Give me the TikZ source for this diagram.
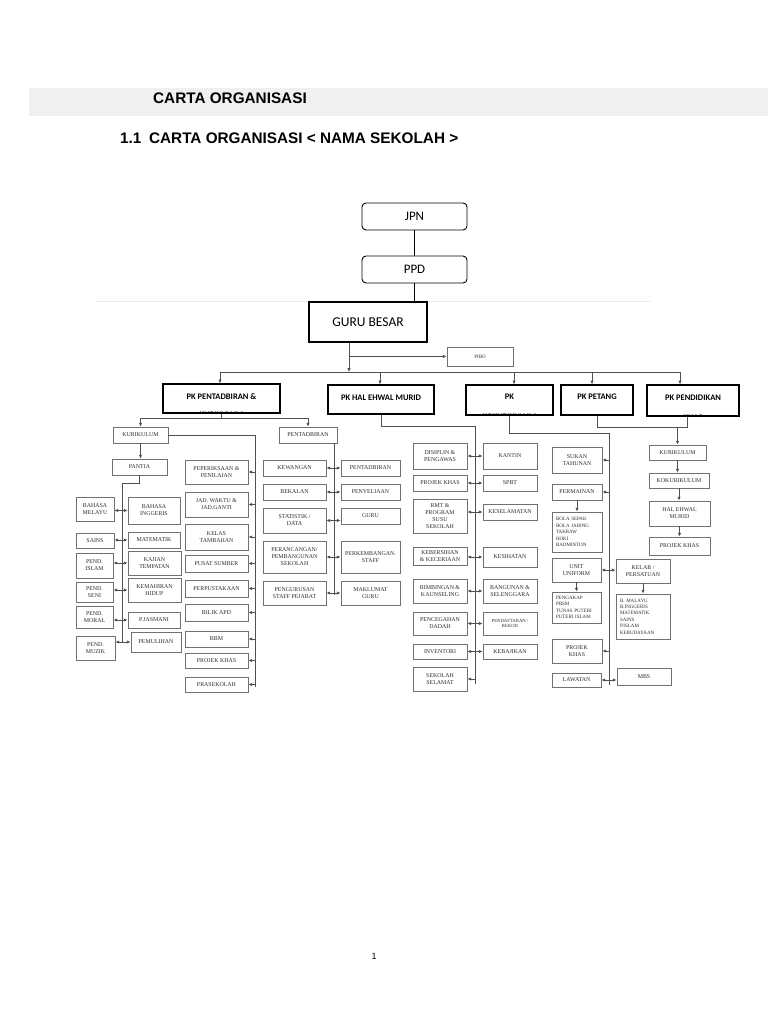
\documentclass[tikz,border=0pt]{standalone}
\usepackage{fontspec}
\setmainfont{Liberation Sans}
\newfontfamily\carl{Carlito}
\newfontfamily\scanf{Liberation Serif}
\usetikzlibrary{arrows.meta}
\definecolor{bord}{HTML}{707070}
\definecolor{txt}{HTML}{2E2E2E}
\definecolor{lnk}{HTML}{505050}
\definecolor{band}{HTML}{F0F0F0}
\newcommand\bxx[7][]{\node[sb,#1,minimum width={#5-#3},minimum height={#6-#4}] (#2) at ({(#3+#5)/2},{(#4+#6)/2}) {#7};}
\begin{document}
\begin{tikzpicture}[x=1pt,y=-1pt,
  sb/.style={draw=bord,line width=0.75pt,inner sep=0pt,align=center,text=txt,
    font={\scanf\fontsize{5.9}{7}\selectfont}},
  lst/.style={align=left,inner xsep=4pt,font={\scanf\fontsize{5}{6.4}\selectfont}},
  rbox/.style={draw=black,line width=0.9pt,rounded corners=4pt,minimum width=105pt,minimum height=27pt,
    inner sep=0pt,font={\carl\fontsize{13}{15}\selectfont}},
  gbox/.style={draw=black,line width=1.4pt,minimum width=118pt,minimum height=40pt,
    inner sep=0pt,font={\carl\fontsize{13.5}{16}\selectfont}},
  pkb/.style={draw=black,line width=1.3pt,inner sep=0pt},
  pkt/.style={inner sep=0pt,font={\carl\bfseries\fontsize{8.5}{10}\selectfont}},
  ln/.style={draw=lnk,line width=0.65pt},
  arr/.style={ln,-{Latex[length=3.8pt,width=3.3pt]}},
  darr/.style={ln,{Latex[length=3.8pt,width=3.3pt]}-{Latex[length=3.8pt,width=3.3pt]}},
  ttl/.style={inner sep=0pt,anchor=west,font={\bfseries\fontsize{15.3}{18}\selectfont}}
]
\fill[white] (0,0) rectangle (768,1024);
\useasboundingbox (0,0) rectangle (768,1024);
% header
\fill[band] (29,88) rectangle (768,116);
\node[ttl] (title) at (153,98) {CARTA ORGANISASI};
\node[ttl] (subtitle) at (120,138.5) {1.1\enspace CARTA ORGANISASI < NAMA SEKOLAH >};
\draw[gray!15,line width=0.6pt] (95,301) -- (650,301);

% top chain
\node[rbox] (jpn) at (414.5,216.5) {JPN};
\node[rbox] (ppd) at (414.5,269.5) {PPD};
\node[gbox] (gb) at (368,322) {GURU BESAR};
\draw[black,line width=0.8pt] (jpn) -- (ppd);
\draw[black,line width=0.8pt] (ppd.south) -- (ppd.south |- gb.north);
\bxx[font={\scanf\fontsize{5}{6}\selectfont}]{pibo}{447}{347}{513}{366}{PIBO}

% PK boxes
\node[pkb,minimum width=117pt,minimum height=29pt] (pkp) at (221.5,398.5) {};
\node[pkb,minimum width=106pt,minimum height=29pt] (pkh) at (381,399.5) {};
\node[pkb,minimum width=87pt,minimum height=30pt] (pkk) at (509.5,400) {};
\node[pkb,minimum width=72pt,minimum height=30pt] (pkpt) at (597,400) {};
\node[pkb,minimum width=92pt,minimum height=31pt] (pkpk) at (693,400.5) {};
\node[pkt] (pkh1) at (381,398) {PK HAL EHWAL MURID};
\node[pkt] (pkpt1) at (597,397) {PK PETANG};
\begin{scope}
  \clip (pkp.south west) rectangle (pkp.north east);
  \node[pkt] (pkp1) at (221.5,397) {PK PENTADBIRAN \&};
  \node[pkt] (pkp2) at (221.5,415) {KURIKULUM};
\end{scope}
\begin{scope}
  \clip (pkk.south west) rectangle (pkk.north east);
  \node[pkt] (pkk1) at (509.5,397) {PK};
  \node[pkt] (pkk2) at (509.5,417) {KOKURIKULUM};
\end{scope}
\begin{scope}
  \clip (pkpk.south west) rectangle (pkpk.north east);
  \node[pkt] (pkpk1) at (693,398) {PK PENDIDIKAN};
  \node[pkt] (pkpk2) at (693,418) {KHAS};
\end{scope}

\coordinate (t0) at (349,372);
\coordinate (tA) at (220,372);
\coordinate (tB) at (380,372);
\coordinate (tC) at (514,372);
\coordinate (tD) at (592,372);
\coordinate (tE) at (680,372);
\draw[arr] (gb.south -| t0) -- (t0);
\draw[arr] (gb.south -| t0) |- (pibo.west);
\draw[ln] (tA) -- (tE);
\draw[arr] (tA) -- (tA |- pkp.north);
\draw[arr] (tB) -- (tB |- pkh.north);
\draw[arr] (tC) -- (tC |- pkk.north);
\draw[arr] (tD) -- (tD |- pkpt.north);
\draw[arr] (tE) -- (tE |- pkpk.north);

% ---------- PK PENTADBIRAN & KURIKULUM ----------
\bxx{kur}{113}{427}{168}{443}{KURIKULUM}
\bxx{pan}{112}{459}{167}{475}{PANTIA}
\bxx{bm}{76}{497}{114}{521}{BAHASA\\MELAYU}
\bxx{bi}{128}{497}{180}{524}{BAHASA\\INGGERIS}
\bxx{sains}{76}{533}{114}{548}{SAINS}
\bxx{mt}{128}{532}{180}{548}{MATEMATIK}
\bxx{pi}{76}{553}{113}{578}{PEND.\\ISLAM}
\bxx{kt}{128}{551}{181}{575}{KAJIAN\\TEMPATAN}
\bxx{ps}{76}{582}{113}{602}{PEND.\\SENI}
\bxx{kh}{128}{578}{181}{602}{KEMAHIRAN\\HIDUP}
\bxx{pm}{76}{606}{113}{628}{PEND.\\MORAL}
\bxx{pj}{128}{612}{180}{628}{P.JASMANI}
\bxx{pmz}{76}{636}{115}{660}{PEND.\\MUZIK}
\bxx{pml}{131}{632}{181}{652}{PEMULIHAN}

\bxx{pep}{185}{460}{248}{484}{PEPERIKSAAN \&\\PENILAIAN}
\bxx{jw}{185}{492}{248}{517}{JAD. WAKTU \&\\JAD.GANTI}
\bxx{kel}{185}{524}{248}{550}{KELAS\\TAMBAHAN}
\bxx{pus}{185}{555}{248}{572}{PUSAT SUMBER}
\bxx{perp}{185}{580}{248}{597}{PERPUSTAKAAN}
\bxx{apd}{185}{604}{248}{621}{BILIK APD}
\bxx{bbm}{185}{631}{248}{647}{BBM}
\bxx{pkhA}{185}{653}{248}{668}{PROJEK KHAS}
\bxx{pra}{185}{677}{248}{692}{PRASEKOLAH}

\coordinate (j1) at (221.5,418);
\draw[ln] (pkp.south) -- (j1);
\bxx{pent}{279}{427}{337}{443}{PENTADBIRAN}
\draw[arr] (j1) -| (kur.north);
\draw[arr] (j1) -| (pent.north);
\coordinate (sL) at (255,687);
\draw[ln] (kur.east) -| (sL);
\foreach \n in {pep,jw,kel,pus,perp,apd,bbm,pkhA,pra}
  \draw[arr] (\n.east -| sL) -- (\n.east);
\draw[arr] (kur.south) -- (kur.south |- pan.north);
\coordinate (sP) at (122,483);
\coordinate (sPb) at (122,643);
\draw[ln] (pan.south) |- (sP) -- (sPb);
\foreach \a/\b in {bm/bi,sains/mt,pi/kt,ps/kh,pm/pj,pmz/pml}
  \draw[darr] (\b.west -| \a.east) -- (\b.west);

% ---------- PENTADBIRAN ----------
\bxx{kew}{263}{460}{326}{476}{KEWANGAN}
\bxx{pen2}{341}{460}{400}{476}{PENTADBIRAN}
\bxx{bek}{263}{484}{326}{500}{BEKALAN}
\bxx{peny}{341}{484}{400}{500}{PENYELIAAN}
\bxx{stat}{263}{508}{326}{533}{STATISTIK /\\DATA}
\bxx{guru}{341}{508}{400}{524}{GURU}
\bxx{peranc}{263}{541}{326}{573}{PERANCANGAN/\\PEMBANGUNAN\\SEKOLAH}
\bxx{perk}{341}{541}{400}{573}{PERKEMBANGAN.\\STAFF}
\bxx{peng}{263}{581}{326}{605}{PENGURUSAN\\STAFF PEJABAT}
\bxx{mak}{341}{581}{400}{605}{MAKLUMAT\\GURU}
\coordinate (sM) at (334,595);
\draw[ln] (pent.south -| sM) -- (sM);
\foreach \a/\b in {kew/pen2,bek/peny,stat/guru,peranc/perk,peng/mak}
  \draw[darr] (\a.east) -- (\a.east -| \b.west);

% ---------- PK HAL EHWAL MURID ----------
\bxx{dis}{413}{443}{467}{469}{DISIPLIN \&\\PENGAWAS}
\bxx{kan}{483}{443}{537}{469}{KANTIN}
\bxx{pkhB}{413}{475}{467}{491}{PROJEK KHAS}
\bxx{spbt}{483}{475}{537}{491}{SPBT}
\bxx{rmt}{413}{499}{467}{533}{RMT \&\\PROGRAM\\SUSU\\SEKOLAH}
\bxx{kes}{483}{504}{537}{520}{KESELAMATAN}
\bxx{keb}{413}{547}{467}{565}{KEBERSIHAN\\\& KECERIAAN}
\bxx{ksh}{483}{547}{537}{567}{KESIHATAN}
\bxx{bim}{413}{579}{467}{603}{BIMBINGAN \&\\KAUNSELING}
\bxx{bang}{483}{579}{537}{603}{BANGUNAN \&\\SELENGGARA}
\bxx{pcg}{413}{612}{467}{635}{PENCEGAHAN\\DADAH}
\bxx[font={\scanf\fontsize{4.7}{5.8}\selectfont}]{pdf}{483}{612}{537}{635}{PENDAFTARAN /\\REKOD}
\bxx{inv}{413}{644}{467}{659}{INVENTORI}
\bxx{kbj}{483}{644}{537}{659}{KEBAJIKAN}
\bxx{ss}{413}{667}{467}{691}{SEKOLAH\\SELAMAT}
\coordinate (jH) at (475,426);
\coordinate (sHb) at (475,684);
\draw[ln] (pkh.south) |- (jH) -- (sHb);
\foreach \a/\b in {dis/kan,pkhB/spbt,rmt/kes,keb/ksh,bim/bang,pcg/pdf,inv/kbj}
  \draw[darr] (\b.west -| \a.east) -- (\b.west);
\draw[arr] (ss.east -| sHb) -- (ss.east);

% ---------- PK KOKURIKULUM ----------
\bxx{suk}{552}{447}{602}{473}{SUKAN\\TAHUNAN}
\bxx{perm}{552}{484}{602}{500}{PERMAINAN}
\node[sb,lst,text width=42pt,minimum height=40pt] (bola) at (577,532)
  {BOLA SEPAK\\BOLA JARING\\TAKRAW\\HOKI\\BADMINTON};
\bxx{uu}{552}{558}{601}{582}{UNIT\\UNIFORM}
\node[sb,lst,text width=41pt,minimum height=31pt] (pgk) at (576.5,607.5)
  {PENGAKAP\\PBSM\\TUNAS PUTERI\\PUTERI ISLAM};
\bxx{kelab}{616}{559}{670}{583}{KELAB /\\PERSATUAN}
\node[sb,lst,text width=46pt,inner xsep=4pt,minimum height=45pt] (bml) at (643,616.5)
  {B. MALAYU\\B.INGGERIS\\MATEMATIK\\SAINS\\P.ISLAM\\KEBUDAYAAN};
\bxx{pkhC}{552}{639}{602}{663}{PROJEK\\KHAS}
\bxx{law}{552}{673}{601}{687}{LAWATAN}
\bxx{mbs}{617}{668}{671}{685}{MBS}
\coordinate (jK) at (609,433);
\coordinate (sKb) at (609,685);
\draw[ln] (pkk.south) |- (jK) -- (sKb);
\foreach \n in {suk,perm,pkhC}
  \draw[arr] (\n.east -| jK) -- (\n.east);
\draw[darr] (uu.east) -- (uu.east -| kelab.west);
\draw[darr] (law.east) -- (law.east -| mbs.west);
\draw[arr] (perm.south) -- (perm.south |- bola.north);
\draw[arr] (uu.south) -- (uu.south |- pgk.north);
\draw[arr] (kelab.south) -- (kelab.south |- bml.north);

% ---------- PK PETANG / PK PENDIDIKAN KHAS ----------
\bxx{kr}{649}{445}{706}{460}{KURIKULUM}
\bxx{kk}{649}{473}{709}{488}{KOKURIKULUM}
\bxx{hem}{649}{501}{710}{526}{HAL EHWAL\\MURID}
\bxx{pkhD}{649}{537}{710}{555}{PROJEK KHAS}
\coordinate (jR) at (687,427);
\draw[ln] (pkpt.south) |- (jR) -- (jR |- pkpk.south);
\draw[arr] (kr.north |- jR) -- (kr.north);
\draw[arr] (kr.south) -- (kr.south |- kk.north);
\draw[arr] (kk.south) -- (kk.south |- hem.north);
\draw[arr] (hem.south) -- (hem.south |- pkhD.north);

% page number
\node[inner sep=0pt,font=\fontsize{9}{11}\selectfont] (pg) at (374,956) {1};
\end{tikzpicture}
\end{document}
